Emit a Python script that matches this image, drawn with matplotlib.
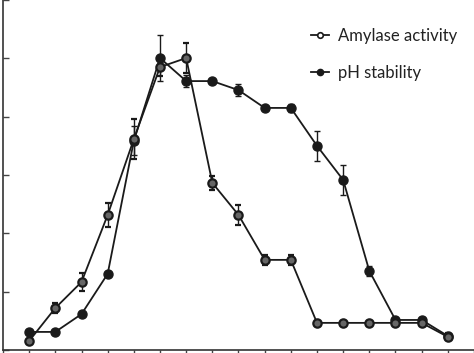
import matplotlib
matplotlib.use("Agg")
import matplotlib.pyplot as plt
from matplotlib.lines import Line2D

x = list(range(1, 18))
amylase = [3.1, 14.4, 23.3, 46.3, 72.3, 97.0, 100.1, 57.3, 46.3, 30.9, 30.9, 9.3, 9.3, 9.3, 9.3, 9.3, 4.5]
amylase_err = [0.5, 1.7, 3.0, 4.0, 6.8, 3.0, 5.0, 2.4, 3.4, 1.7, 1.7, 0.5, 0.5, 0.5, 0.5, 0.5, 1.2]
ph_stab = [6.2, 6.2, 12.3, 26.1, 71.7, 100.1, 92.2, 92.2, 89.1, 83.0, 83.0, 70.0, 58.3, 27.1, 10.3, 10.3, 4.8]
ph_err = [0.5, 0.5, 0.5, 0.5, 5.0, 7.9, 2.0, 0.5, 2.0, 0.5, 1.4, 5.1, 5.1, 1.7, 1.0, 1.0, 1.0]

fig = plt.figure(figsize=(4.74, 3.53), dpi=100)
ax = fig.add_axes([3/474, 3/353, 471/474, 350/353])

col = "#1a1a1a"
ax.errorbar(x, ph_stab, yerr=ph_err, color=col, marker="o", markersize=6.5,
            markerfacecolor=col, markeredgecolor=col, lw=1.3, elinewidth=1.0,
            capsize=2, capthick=1.0, label="pH stability", zorder=3)
ax.errorbar(x, amylase, yerr=amylase_err, color=col, marker="o", markersize=6,
            markerfacecolor="#666666", markeredgecolor=col, markeredgewidth=1.6,
            lw=1.3, elinewidth=1.0, capsize=2, capthick=1.0,
            label="Amylase activity", zorder=4)

ax.set_xlim(0, 18)
ax.set_ylim(0, 120)
ax.set_xticks(range(0, 19))
ax.set_yticks(range(0, 121, 20))
ax.set_xticklabels([])
ax.set_yticklabels([])
ax.tick_params(axis="x", direction="out", length=4, width=1, color="#444444")
ax.tick_params(axis="y", direction="in", length=4, width=1, color="#444444")
for s in ["top", "right"]:
    ax.spines[s].set_visible(False)
for s in ["left", "bottom"]:
    ax.spines[s].set_color("#333333")
    ax.spines[s].set_linewidth(1.2)

h1 = Line2D([], [], color=col, lw=1.3, marker="o", markersize=4,
            markerfacecolor="white", markeredgecolor=col, markeredgewidth=1.2)
h2 = Line2D([], [], color=col, lw=1.3, marker="o", markersize=4.5,
            markerfacecolor=col, markeredgecolor=col)
leg = fig.legend([h1, h2], ["Amylase activity", "pH stability"],
                 loc="upper left", bbox_to_anchor=(296/474, 1 - 13/353),
                 frameon=False, handlelength=1.1, handletextpad=0.55,
                 labelspacing=1.25, prop={"family": "Lato", "size": 12})
for t in leg.get_texts():
    t.set_color("#222222")

fig.savefig("out.png", dpi=100)
